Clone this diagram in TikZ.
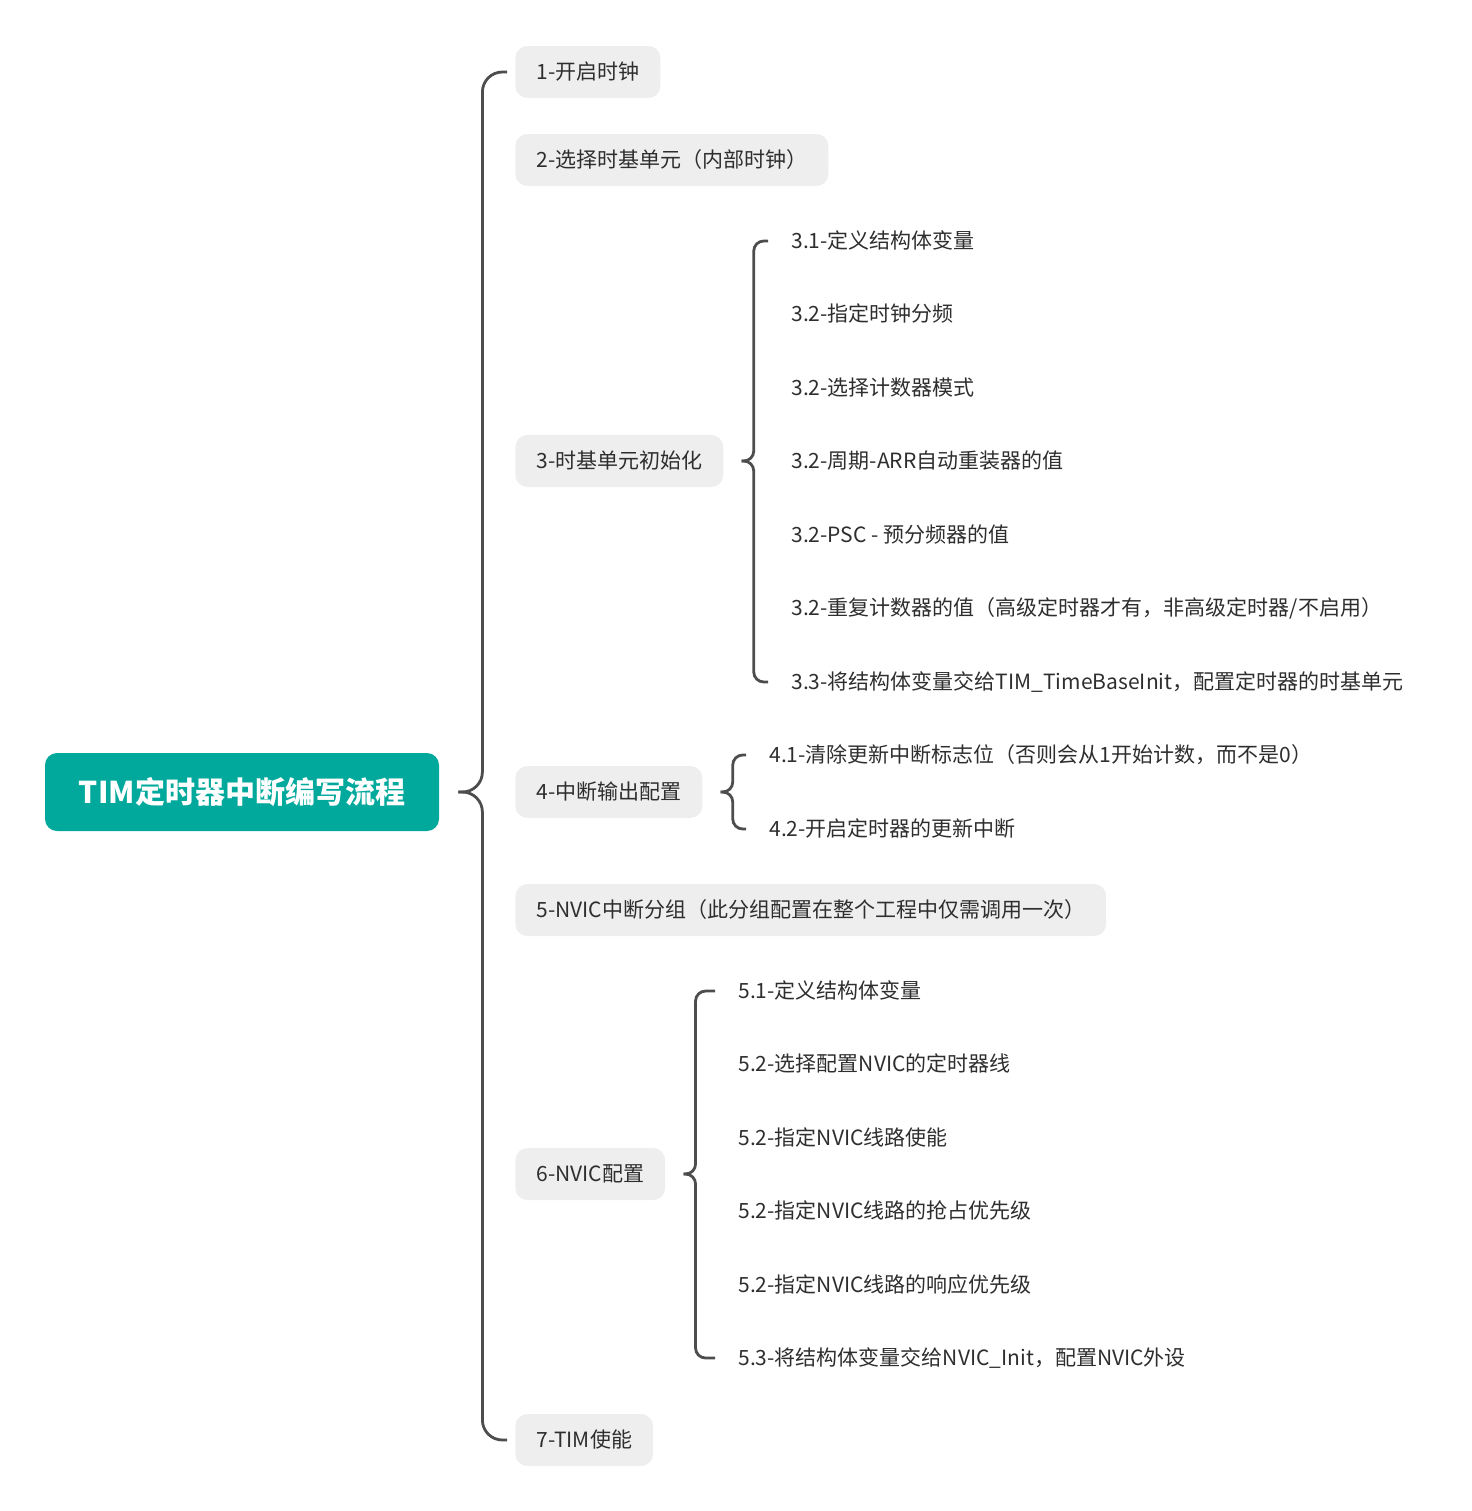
\documentclass[tikz,border=0pt]{standalone}
\usepackage{fontspec}
\setmainfont{Noto Sans CJK SC}
\usepackage{tikz}
\usetikzlibrary{calc,positioning}
\definecolor{Verde}{HTML}{00A99C}
\definecolor{GrisCaja}{HTML}{EEEEEE}
\definecolor{GrisLinea}{HTML}{4D4D4D}
\definecolor{GrisTexto}{HTML}{2E2E2E}

\begin{document}
\begin{tikzpicture}[
  x=0.5pt, y=-0.5pt,
  every node/.style={font=\fontsize{10.5pt}{12pt}\selectfont,text=GrisTexto},
  raiz/.style={fill=Verde,text=white,rounded corners=6pt,
    font=\fontsize{15pt}{18pt}\selectfont\bfseries,
    minimum width=197pt,minimum height=39pt},
  rama/.style={fill=GrisCaja,rounded corners=6pt,anchor=west,
    inner xsep=10.5pt,minimum height=26pt,text height=9pt,text depth=1.5pt},
  hoja/.style={anchor=west,inner xsep=11.5pt,inner ysep=0pt,
    text height=9pt,text depth=1.5pt},
  llave/.style={draw=GrisLinea,line width=1.4pt,rounded corners=5pt}
]
  \useasboundingbox (0,0) rectangle (1472,1511);

  \node[raiz] (raiz) at (242,792) {TIM定时器中断编写流程};

  \node[rama] (t1) at (515,72) {1-开启时钟};
  \node[rama] (t2) at (515,160) {2-选择时基单元（内部时钟）};
  \node[rama] (t3) at (515,461) {3-时基单元初始化};
  \node[rama] (t4) at (515,792) {4-中断输出配置};
  \node[rama] (t5) at (515,910) {5-NVIC中断分组（此分组配置在整个工程中仅需调用一次）};
  \node[rama] (t6) at (515,1174) {6-NVIC配置};
  \node[rama] (t7) at (515,1440) {7-TIM使能};

  % Pasos del tema 3.
  \node[hoja] (s31) at (768,241) {3.1-定义结构体变量};
  \node[hoja] (s32) at (768,314) {3.2-指定时钟分频};
  \node[hoja] (s33) at (768,388) {3.2-选择计数器模式};
  \node[hoja] (s34) at (768,461) {3.2-周期-ARR自动重装器的值};
  \node[hoja] (s35) at (768,535) {3.2-PSC - 预分频器的值};
  \node[hoja] (s36) at (768,608) {3.2-重复计数器的值（高级定时器才有，非高级定时器/不启用）};
  \node[hoja] (s37) at (768,682) {3.3-将结构体变量交给TIM\_TimeBaseInit，配置定时器的时基单元};

  % Pasos del tema 4.
  \node[hoja] (s41) at (746,755) {4.1-清除更新中断标志位（否则会从1开始计数，而不是0）};
  \node[hoja] (s42) at (746,829) {4.2-开启定时器的更新中断};

  % Pasos del tema 6.
  \node[hoja] (s61) at (715,991) {5.1-定义结构体变量};
  \node[hoja] (s62) at (715,1064) {5.2-选择配置NVIC的定时器线};
  \node[hoja] (s63) at (715,1138) {5.2-指定NVIC线路使能};
  \node[hoja] (s64) at (715,1211) {5.2-指定NVIC线路的抢占优先级};
  \node[hoja] (s65) at (715,1285) {5.2-指定NVIC线路的响应优先级};
  \node[hoja] (s66) at (715,1358) {5.3-将结构体变量交给NVIC\_Init，配置NVIC外设};

  % Llave principal.
  \draw[llave,rounded corners=10pt] ($(raiz.east)+(19,0)$) -- ++(24,0) |- ($(t1.west)+(-8,0)$);
  \draw[llave,rounded corners=10pt] ($(raiz.east)+(19,0)$) -- ++(24,0) |- ($(t7.west)+(-8,0)$);

  % Llaves de los subtemas.
  \draw[llave] ($(t3.east)+(18,0)$) -- ++(12,0) |- (s31.west);
  \draw[llave] ($(t3.east)+(18,0)$) -- ++(12,0) |- (s37.west);
  \draw[llave] ($(t4.east)+(18,0)$) -- ++(12,0) |- (s41.west);
  \draw[llave] ($(t4.east)+(18,0)$) -- ++(12,0) |- (s42.west);
  \draw[llave] ($(t6.east)+(18,0)$) -- ++(12,0) |- (s61.west);
  \draw[llave] ($(t6.east)+(18,0)$) -- ++(12,0) |- (s66.west);
\end{tikzpicture}
\end{document}
